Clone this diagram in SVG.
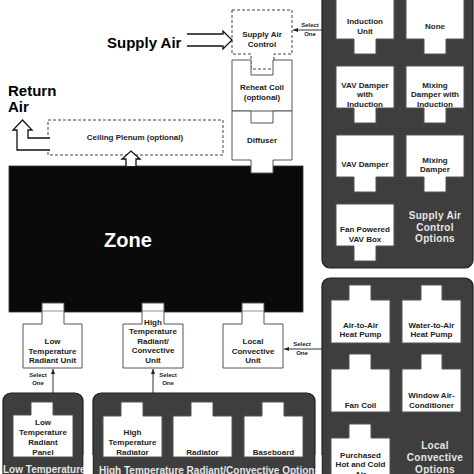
<svg xmlns="http://www.w3.org/2000/svg" width="474" height="474" viewBox="0 0 474 474">
<defs>
<style>
text{font-family:"Liberation Sans",Arial,sans-serif;font-weight:bold;text-anchor:middle}
.lbl{font-size:8px;fill:#222}
.sel{font-size:6px;fill:#222}
.ttl{font-size:10px;fill:#e6e6e6;letter-spacing:0.3px}
.big{font-size:15px;fill:#000;text-anchor:start}
.box{fill:#fff;stroke:#555;stroke-width:1}
.panel{fill:#3e3e3e;stroke:#1e1e1e;stroke-width:1.2}
.dash{fill:none;stroke:#444;stroke-width:1;stroke-dasharray:3 2}
.hollow{fill:#fff;stroke:#111;stroke-width:1.3}
.con{fill:none;stroke:#333;stroke-width:1}
</style>
<marker id="ah" viewBox="0 0 6 6" refX="6" refY="3" markerWidth="5" markerHeight="5" orient="auto">
<path d="M0,0.5 L6,3 L0,5.5 Z" fill="#222"/>
</marker>
</defs>
<rect width="474" height="474" fill="#fff"/>

<!-- Panels -->
<g id="supply-options-panel">
<rect class="panel" x="322" y="-20" width="151" height="288" rx="8"/>
<text class="ttl" x="435" y="219">Supply Air</text>
<text class="ttl" x="435" y="231">Control</text>
<text class="ttl" x="435" y="242">Options</text>
</g>
<g id="local-options-panel">
<rect class="panel" x="322" y="278" width="151" height="220" rx="8"/>
<text class="ttl" x="435" y="449">Local</text>
<text class="ttl" x="435" y="461">Convective</text>
<text class="ttl" x="435" y="473">Options</text>
</g>
<g id="low-options-panel">
<rect class="panel" x="3" y="393" width="80" height="100" rx="8"/>
</g>
<g id="high-options-panel">
<rect class="panel" x="93" y="393" width="222" height="100" rx="8"/>
</g>

<!-- Zone -->
<g id="zone">
<rect x="9" y="166" width="294" height="146" fill="#0a0a0a" stroke="#333" stroke-width="0.8"/>
<text x="128" y="247" style="font-size:20px;fill:#fff">Zone</text>
</g>

<!-- Supply air chain -->
<g id="supply-air-control">
<path class="dash" d="M232,10 H292 V54 H274 V69 H251 V54 H232 Z"/>
<text class="lbl" x="262" y="37">Supply Air</text>
<text class="lbl" x="262" y="47">Control</text>
</g>
<g id="reheat-coil">
<path class="box" d="M232,60 H251 V75 H273 V60 H292 V111 H232 Z"/>
<text class="lbl" x="262" y="90">Reheat Coil</text>
<text class="lbl" x="262" y="100">(optional)</text>
</g>
<g id="diffuser">
<path class="box" d="M232,111 H251 V123 H273 V111 H292 V160 H273 V173 H251 V160 H232 Z"/>
<text class="lbl" x="262" y="143">Diffuser</text>
</g>
<g id="ceiling-plenum">
<rect class="dash" x="48" y="120" width="175" height="35"/>
<text class="lbl" x="135" y="140">Ceiling Plenum (optional)</text>
</g>
<g id="supply-air-label">
<text class="big" x="107" y="48">Supply Air</text>
</g>
<g id="return-air-label">
<text class="big" x="8" y="96">Return</text>
<text class="big" x="8" y="112">Air</text>
</g>

<!-- Units below zone -->
<g id="low-temp-unit">
<path class="box" d="M42,303 H64 V324 H82 V368 H23 V324 H42 Z"/>
<line x1="42" y1="311" x2="64" y2="311" stroke="#777" stroke-width="0.8"/>
<text class="lbl" x="52.5" y="344">Low</text>
<text class="lbl" x="52.5" y="354">Temperature</text>
<text class="lbl" x="52.5" y="363">Radiant Unit</text>
</g>
<g id="high-temp-unit">
<path class="box" d="M142,303 H164 V324 H183 V368 H123 V324 H142 Z"/>
<line x1="142" y1="311" x2="164" y2="311" stroke="#777" stroke-width="0.8"/>
<text class="lbl" x="153" y="325">High</text>
<text class="lbl" x="153" y="334">Temperature</text>
<text class="lbl" x="153" y="344">Radiant/</text>
<text class="lbl" x="153" y="353">Convective</text>
<text class="lbl" x="153" y="363">Unit</text>
</g>
<g id="local-convective-unit">
<path class="box" d="M242,303 H264 V324 H283 V368 H223 V324 H242 Z"/>
<line x1="242" y1="311" x2="264" y2="311" stroke="#777" stroke-width="0.8"/>
<text class="lbl" x="253" y="344">Local</text>
<text class="lbl" x="253" y="354">Convective</text>
<text class="lbl" x="253" y="363">Unit</text>
</g>

<!-- Supply air control options -->
<g id="induction-unit">
<path class="box" d="M336,-3 H394 V39 H376 V54 H354 V39 H336 Z"/>
<text class="lbl" x="365" y="24">Induction</text>
<text class="lbl" x="365" y="34">Unit</text>
</g>
<g id="none">
<path class="box" d="M406,-3 H464 V39 H446 V54 H424 V39 H406 Z"/>
<text class="lbl" x="435" y="29">None</text>
</g>
<g id="vav-damper-induction">
<path class="box" d="M336,66 H394 V108 H376 V123 H354 V108 H336 Z"/>
<text class="lbl" x="365" y="88">VAV Damper</text>
<text class="lbl" x="365" y="97">with</text>
<text class="lbl" x="365" y="107">Induction</text>
</g>
<g id="mixing-damper-induction">
<path class="box" d="M406,66 H464 V108 H446 V123 H424 V108 H406 Z"/>
<text class="lbl" x="435" y="88">Mixing</text>
<text class="lbl" x="435" y="97">Damper with</text>
<text class="lbl" x="435" y="107">Induction</text>
</g>
<g id="vav-damper">
<path class="box" d="M336,135 H394 V177 H376 V192 H354 V177 H336 Z"/>
<text class="lbl" x="365" y="167">VAV Damper</text>
</g>
<g id="mixing-damper">
<path class="box" d="M406,135 H464 V177 H446 V192 H424 V177 H406 Z"/>
<text class="lbl" x="435" y="163">Mixing</text>
<text class="lbl" x="435" y="172">Damper</text>
</g>
<g id="fan-powered-vav">
<path class="box" d="M336,204 H394 V246 H376 V261 H354 V246 H336 Z"/>
<text class="lbl" x="365" y="232">Fan Powered</text>
<text class="lbl" x="365" y="242">VAV Box</text>
</g>

<!-- Local convective options -->
<g id="air-to-air-hp">
<path class="box" d="M349,285 H371 V300 H390 V343 H331 V300 H349 Z"/>
<text class="lbl" x="360.5" y="328">Air-to-Air</text>
<text class="lbl" x="360.5" y="337">Heat Pump</text>
</g>
<g id="water-to-air-hp">
<path class="box" d="M421,285 H442 V300 H461 V343 H402 V300 H421 Z"/>
<text class="lbl" x="431.5" y="328">Water-to-Air</text>
<text class="lbl" x="431.5" y="337">Heat Pump</text>
</g>
<g id="fan-coil">
<path class="box" d="M349,354 H371 V369 H390 V412 H331 V369 H349 Z"/>
<text class="lbl" x="360.5" y="408">Fan Coil</text>
</g>
<g id="window-ac">
<path class="box" d="M421,354 H442 V369 H461 V412 H402 V369 H421 Z"/>
<text class="lbl" x="431.5" y="398">Window Air-</text>
<text class="lbl" x="431.5" y="408">Conditioner</text>
</g>
<g id="purchased-hot-cold">
<path class="box" d="M349,424 H371 V438 H390 V490 H331 V438 H349 Z"/>
<text class="lbl" x="360.5" y="458">Purchased</text>
<text class="lbl" x="360.5" y="467">Hot and Cold</text>
<text class="lbl" x="360.5" y="477">Air</text>
</g>

<!-- Low / high temperature options -->
<g id="low-temp-panel">
<path class="box" d="M31,402 H53 V415 H73 V457 H13 V415 H31 Z"/>
<text class="lbl" x="43" y="425">Low</text>
<text class="lbl" x="43" y="435">Temperature</text>
<text class="lbl" x="43" y="445">Radiant</text>
<text class="lbl" x="43" y="455">Panel</text>
</g>
<g id="high-temp-radiator">
<path class="box" d="M121,402 H143 V416 H162 V457 H103 V416 H121 Z"/>
<text class="lbl" x="132.5" y="435">High</text>
<text class="lbl" x="132.5" y="445">Temperature</text>
<text class="lbl" x="132.5" y="455">Radiator</text>
</g>
<g id="radiator">
<path class="box" d="M191,402 H213 V416 H232 V457 H173 V416 H191 Z"/>
<text class="lbl" x="202.5" y="455">Radiator</text>
</g>
<g id="baseboard">
<path class="box" d="M262,402 H284 V416 H303 V457 H244 V416 H262 Z"/>
<text class="lbl" x="273.5" y="455">Baseboard</text>
</g>
<g id="panel-titles">
<text class="ttl" x="3" y="473" style="text-anchor:start;letter-spacing:0">Low Temperature</text>
<text class="ttl" x="99" y="474" style="text-anchor:start;letter-spacing:0">High Temperature Radiant/Convective Options</text>
</g>
<rect x="83.6" y="455" width="9" height="20" fill="#fff"/>
<rect x="315.6" y="455" width="6" height="20" fill="#fff"/>

<!-- Connectors -->
<g id="connectors">
<path class="hollow" d="M187,34 H223 V31 L232,40 L223,49 V46 H187"/>
<path class="hollow" d="M50,138 H28 V130 H32 L22.5,120 L13,130 H17 V150 H50"/>
<path class="hollow" d="M126,166 V159 H122 L131,151 L140,159 H136 V166"/>
<line class="con" x1="322" y1="30" x2="293" y2="30" marker-end="url(#ah)"/>
<text class="sel" x="310" y="27">Select</text>
<text class="sel" x="310" y="36">One</text>
<line class="con" x1="322" y1="349" x2="284" y2="349" marker-end="url(#ah)"/>
<text class="sel" x="302" y="346">Select</text>
<text class="sel" x="302" y="355">One</text>
<line class="con" x1="53" y1="393" x2="53" y2="369" marker-end="url(#ah)"/>
<text class="sel" x="38" y="377">Select</text>
<text class="sel" x="38" y="385">One</text>
<line class="con" x1="153" y1="393" x2="153" y2="369" marker-end="url(#ah)"/>
<text class="sel" x="168" y="377">Select</text>
<text class="sel" x="168" y="385">One</text>
</g>
</svg>
